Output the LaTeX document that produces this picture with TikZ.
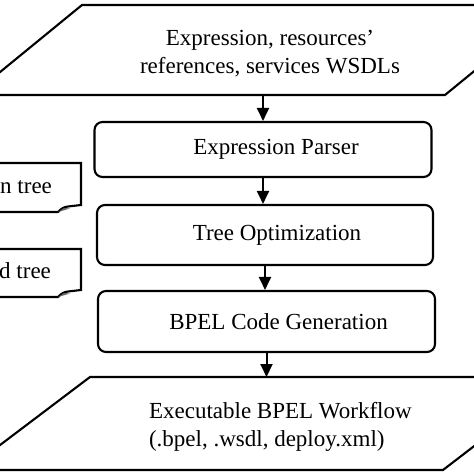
\documentclass[tikz,border=0pt]{standalone}
\usepackage{fontspec}
\setmainfont{Liberation Serif}
\usetikzlibrary{arrows.meta}
\begin{document}
\begin{tikzpicture}[x=1pt,y=-1pt,
  line width=2.1pt,
  box/.style={draw, rounded corners=8pt, minimum width=337pt, minimum height=#1, inner sep=0pt},
  txt/.style={font=\fontsize{23}{28}\selectfont, inner sep=0pt},
  arr/.style={-{Triangle[width=12pt,length=13pt]}, line width=2pt},
  notefold/.style={fill=black!60, line width=0.8pt}
]
\useasboundingbox (0,0) rectangle (474,474);
\clip (0,0) rectangle (474,474);
\fill[white] (0,0) rectangle (474,474);

% input parallelogram
\draw[line join=miter] (82,5) -- (555,5) -- (445,95) -- (-28,95) -- cycle;
\coordinate (inbot) at (263,95);
\node[txt, align=center] (intxt) at (270,53.5) {Expression, resources’\\references, services WSDLs};

% process boxes
\node[box=55pt] (parser) at (263,149.5) {};
\node[txt] (parsertxt) at ([xshift=13pt]parser.center) {Expression Parser};
\node[box=60pt, minimum width=336pt] (opt) at (265,235) {};
\node[txt] (opttxt) at ([xshift=12pt]opt.center) {Tree Optimization};
\node[box=61pt] (bpel) at (266.5,321.5) {};
\node[txt] (bpeltxt) at ([xshift=12pt]bpel.center) {BPEL Code Generation};

% output parallelogram
\draw[line join=miter] (90,377) -- (564,377) -- (443,470) -- (-33,470) -- cycle;
\coordinate (outtop) at (266.5,377);
\node[txt, align=left, anchor=west] (outtxt) at (148,426.5) {Executable BPEL Workflow\\(.bpel, .wsdl, deploy.xml)};

% connectors
\draw[arr] (inbot) -- (parser.north);
\draw[arr] (parser.south) -- (parser.south |- opt.north);
\draw[arr] (opt.south) -- (opt.south |- bpel.north);
\draw[arr] (bpel.south) -- (outtop);

% notes (documents, cut by the frame)
\draw (81,205) -- (81,163) -- (-60,163) -- (-60,212) -- (58,212) .. controls (62,208) and (64,207) .. (68,206.5) -- cycle;
\fill[notefold] (58,212) -- (64,208) -- (70,208.5) -- cycle;
\node[txt, anchor=base east] (note1) at (53,193.5) {n tree};

\draw (81,290) -- (81,249) -- (-60,249) -- (-60,297) -- (58,297) .. controls (62,293) and (64,292) .. (68,291.5) -- cycle;
\fill[notefold] (58,297) -- (64,293) -- (70,293.5) -- cycle;
\node[txt, anchor=base east] (note2) at (52,278) {d tree};
\end{tikzpicture}
\end{document}
